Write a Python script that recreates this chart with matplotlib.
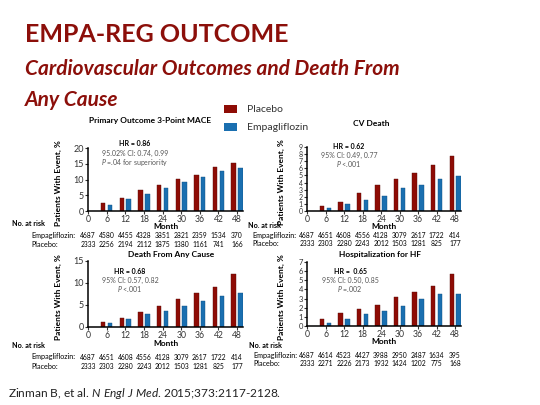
import matplotlib
matplotlib.use("Agg")
import matplotlib.pyplot as plt
from matplotlib.transforms import blended_transform_factory
from matplotlib.patches import Rectangle

plt.rcParams['font.family'] = ['Lato', 'DejaVu Sans']
plt.rcParams['mathtext.fontset'] = 'custom'
plt.rcParams['mathtext.rm'] = 'Lato'
plt.rcParams['mathtext.it'] = 'Lato:italic'
plt.rcParams['mathtext.bf'] = 'Lato:bold'

# Daten
months = [6, 12, 18, 24, 30, 36, 42, 48]
risk_months = [0, 6, 12, 18, 24, 30, 36, 42, 48]

mace_placebo = [2.5, 4.2, 6.7, 8.3, 10.1, 11.5, 13.9, 15.1]
mace_empa = [1.8, 3.9, 5.5, 7.4, 9.3, 10.9, 12.8, 13.5]
cvd_placebo = [0.7, 1.3, 2.6, 3.6, 4.5, 5.3, 6.45, 7.8]
cvd_empa = [0.4, 1.0, 1.55, 2.15, 3.2, 3.7, 4.5, 4.9]
death_placebo = [1.1, 2.1, 3.5, 4.8, 6.4, 7.8, 9.1, 12.0]
death_empa = [0.8, 1.8, 2.9, 3.7, 4.8, 5.9, 7.0, 7.8]
hf_placebo = [0.8, 1.4, 1.9, 2.35, 3.15, 3.7, 4.35, 5.7]
hf_empa = [0.33, 0.8, 1.3, 1.6, 2.2, 3.0, 3.45, 3.45]

risk_mace_empa = [4687, 4580, 4455, 4328, 3851, 2821, 2359, 1534, 370]
risk_mace_plac = [2333, 2256, 2194, 2112, 1875, 1380, 1161, 741, 166]
risk_cvd_empa = [4687, 4651, 4608, 4556, 4128, 3079, 2617, 1722, 414]
risk_cvd_plac = [2333, 2303, 2280, 2243, 2012, 1503, 1281, 825, 177]
risk_hf_empa = [4687, 4614, 4523, 4427, 3988, 2950, 2487, 1634, 395]
risk_hf_plac = [2333, 2271, 2226, 2173, 1932, 1424, 1202, 775, 168]

RED = '#8e0c05'
BLUE = '#1a6fb0'
TITLE = '#8c0f0a'
W, H = 540, 405

fig = plt.figure(figsize=(5.4, 4.05), dpi=100)


def px_axes(left, right, bottom, top):
    return fig.add_axes([left / W, 1 - bottom / H, (right - left) / W, (bottom - top) / H])


def panel(ax, title, title_xy, plac, empa, ymax, ystep, ytick_fs, hr, ci, p, hr_xy,
          risk_e, risk_p, rows_y, label_x, indent, ylab_x, month_y):
    off, bw = 1.1, 1.45
    ax.bar([m - off for m in months], plac, width=bw, color=RED, edgecolor='#5a0a05', linewidth=0.3)
    ax.bar([m + off for m in months], empa, width=bw, color=BLUE, edgecolor='#0f4f80', linewidth=0.3)
    ax.set_xlim(0, 49.9)
    ax.set_ylim(0, ymax)
    ax.set_xticks(risk_months)
    ax.set_yticks(range(0, ymax + 1, ystep))
    ax.tick_params(length=2, width=0.8, pad=1, colors='#333333')
    ax.tick_params(axis='x', labelsize=6.2)
    ax.tick_params(axis='y', labelsize=ytick_fs)
    for s in ['top', 'right']:
        ax.spines[s].set_visible(False)
    for s in ['left', 'bottom']:
        ax.spines[s].set_linewidth(1.1)
    fig.text(title_xy[0] / W, 1 - title_xy[1] / H, title, fontsize=6, fontweight='bold',
             ha='center', va='center')
    ax.set_xlabel('Month', fontsize=6, fontweight='bold')
    ax.xaxis.set_label_coords(0.5, 1 - month_y / H,
                              transform=blended_transform_factory(ax.transAxes, fig.transFigure))
    ax.set_ylabel('Patients With Event, %', fontsize=6, fontweight='bold')
    ax.yaxis.set_label_coords(ylab_x / W, 0.45,
                              transform=blended_transform_factory(fig.transFigure, ax.transAxes))

    # HR-Angaben
    hx, hy = hr_xy
    fig.text(hx / W, 1 - hy / H, hr, fontsize=5, fontweight='bold', ha='center', va='center')
    fig.text(hx / W, 1 - (hy + 9) / H, ci, fontsize=5, color='#555555', ha='center', va='center')
    fig.text(hx / W, 1 - (hy + 18) / H, p, fontsize=5, color='#555555', ha='center', va='center')

    # Anzahl unter Risiko
    tr = blended_transform_factory(ax.transData, fig.transFigure)
    y0, y1, y2 = rows_y
    fig.text(label_x / W, 1 - y0 / H, 'No. at risk', fontsize=5.2, fontweight='bold', va='center')
    fig.text((label_x + indent) / W, 1 - y1 / H, 'Empagliflozin:', fontsize=5.2, va='center')
    fig.text((label_x + indent) / W, 1 - y2 / H, 'Placebo:', fontsize=5.2, va='center')
    for m, e, pl in zip(risk_months, risk_e, risk_p):
        ax.text(m, 1 - y1 / H, str(e), transform=tr, fontsize=4.9, ha='center', va='center')
        ax.text(m, 1 - y2 / H, str(pl), transform=tr, fontsize=4.9, ha='center', va='center')


ax1 = px_axes(88, 243, 211, 148)
panel(ax1, 'Primary Outcome 3-Point MACE', (150, 121), mace_placebo, mace_empa, 20, 5, 6.5,
      'HR = 0.86', '95.02% CI: 0.74, 0.99', r'$P$ =.04 for superiority', (135, 144),
      risk_mace_empa, risk_mace_plac, (224, 235.5, 244), 12, 19, 62, 223)

ax2 = px_axes(307, 461, 211, 147)
panel(ax2, 'CV Death', (371, 123), cvd_placebo, cvd_empa, 9, 1, 5, 'HR = 0.62',
      '95% CI: 0.49, 0.77', r'$P$ <.001', (349, 146.5), risk_cvd_empa, risk_cvd_plac,
      (225, 235.5, 243.5), 248, 4, 285, 223)

ax3 = px_axes(88, 243, 327, 261)
panel(ax3, 'Death From Any Cause', (171, 255), death_placebo, death_empa, 15, 5, 6.5,
      'HR = 0.68', '95% CI: 0.57, 0.82', r'$P$ <.001', (130, 271), risk_cvd_empa,
      risk_cvd_plac, (346, 357, 366.5), 12, 19, 62, 340)

ax4 = px_axes(307, 461, 326, 262)
panel(ax4, 'Hospitalization for HF', (380, 255), hf_placebo, hf_empa, 7, 1, 5.5,
      'HR =  0.65', '95% CI: 0.50, 0.85', r'$P$ =.002', (350, 271.5), risk_hf_empa,
      risk_hf_plac, (345, 355.5, 363.5), 249, 4, 285, 338.5)

# Titel
fig.text(25 / W, 1 - 42 / H, 'EMPA-REG OUTCOME', fontsize=18, fontweight='bold',
         color=TITLE, va='baseline')
fig.text(25 / W, 1 - 75 / H, 'Cardiovascular Outcomes and Death From', fontsize=15,
         fontweight='bold', style='italic', color=TITLE, va='baseline')
fig.text(25 / W, 1 - 106 / H, 'Any Cause', fontsize=15, fontweight='bold', style='italic',
         color=TITLE, va='baseline')

# Legende
fig.add_artist(Rectangle((224 / W, 1 - 113 / H), 13 / W, 8 / H, transform=fig.transFigure,
                         facecolor=RED, edgecolor='none'))
fig.add_artist(Rectangle((224 / W, 1 - 131 / H), 13 / W, 8 / H, transform=fig.transFigure,
                         facecolor=BLUE, edgecolor='none'))
fig.text(247 / W, 1 - 109 / H, 'Placebo', fontsize=7.5, color='#333333', va='center')
fig.text(247 / W, 1 - 127 / H, 'Empagliflozin', fontsize=7.5, color='#333333', va='center')

# Quelle
fig.text(8 / W, 1 - 397 / H, r'Zinman B, et al. $\mathit{N\ Engl\ J\ Med}$. 2015;373:2117-2128.',
         fontsize=8.6, color='#222222', va='baseline')

fig.savefig('out.png', dpi=100)
